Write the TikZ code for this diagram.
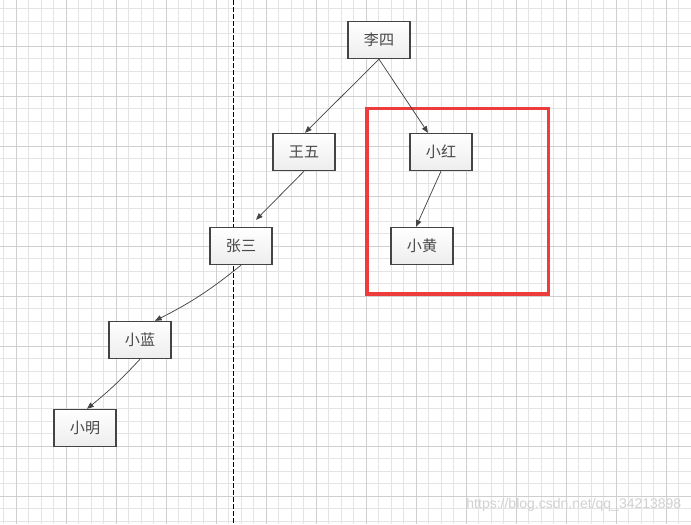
\documentclass[tikz,border=0pt]{standalone}
\usepackage{fontspec}
\setmainfont{Liberation Sans}
\newfontfamily\cjk{Noto Sans CJK SC}
\usetikzlibrary{arrows.meta}
\definecolor{minorgrid}{HTML}{E4E4E4}
\definecolor{majorgrid}{HTML}{CFCFCF}
\definecolor{edgegray}{HTML}{444444}
\definecolor{boxred}{HTML}{EE3B3B}
\tikzset{
  person/.style={draw=edgegray, line width=0.8pt, top color=white, bottom color=black!7,
    minimum width=46.5pt, minimum height=28pt, inner sep=0pt, font=\cjk\fontsize{11.3}{13}\selectfont, text=black!72},
  link/.style={draw=edgegray, line width=0.55pt, -{Triangle[length=5pt,width=4pt]}},
  minorline/.style={draw=minorgrid, line width=0.6pt},
  majorline/.style={draw=majorgrid, line width=0.6pt}
}
\begin{document}
\begin{tikzpicture}[x=0.75pt, y=-0.75pt]
\useasboundingbox (0,0) rectangle (691,524);
\fill[white] (0,0) rectangle (691,524);
% grid
\foreach \i in {0,...,55} { \draw[minorline] ({3.8+12.5*\i},0) -- ({3.8+12.5*\i},524); }
\foreach \i in {0,...,41} { \draw[minorline] (0,{8.5+12.5*\i}) -- (691,{8.5+12.5*\i}); }
\foreach \i in {0,...,13} { \draw[majorline] ({16.3+50*\i},0) -- ({16.3+50*\i},524); }
\foreach \i in {1,...,10} { \draw[majorline] (0,{-4+50*\i}) -- (691,{-4+50*\i}); }
% dashed divider
\coordinate (dtop) at (233,0);
\coordinate (dbot) at (233,524);
\draw[black, line width=0.7pt, dash pattern=on 3.75pt off 1.5pt] (dtop) -- (dbot);
% red frame
\draw[boxred, line width=2.3pt] (367,108.5) rectangle (548.3,294);
% nodes
\node[person] (lisi) at (379,40) {李四};
\node[person] (wangwu) at (304,152) {王五};
\node[person] (xiaohong) at (441,152) {小红};
\node[person] (zhangsan) at (241,246) {张三};
\node[person] (xiaohuang) at (422,246) {小黄};
\node[person] (xiaolan) at (140,340) {小蓝};
\node[person] (xiaoming) at (85,428) {小明};
% connectors
\draw[link] (lisi.south) -- ([xshift=0.75pt]wangwu.north);
\draw[link] (lisi.south) -- ([xshift=-9.75pt]xiaohong.north);
\draw[link] (xiaohong.south) -- ([xshift=-4.5pt]xiaohuang.north);
\draw[link] (wangwu.south) -- ([xshift=11.25pt, yshift=5.25pt]zhangsan.north);
\draw[link] (zhangsan.south) to[bend left=6] ([xshift=11.25pt]xiaolan.north);
\draw[link] (xiaolan.south) to[bend left=4] ([xshift=1.5pt]xiaoming.north);
% watermark
\node[text=black!18, font=\fontsize{10.5}{12}\selectfont, anchor=east] (wm) at (686,505) {https://blog.csdn.net/qq\_34213898};
\end{tikzpicture}
\end{document}
